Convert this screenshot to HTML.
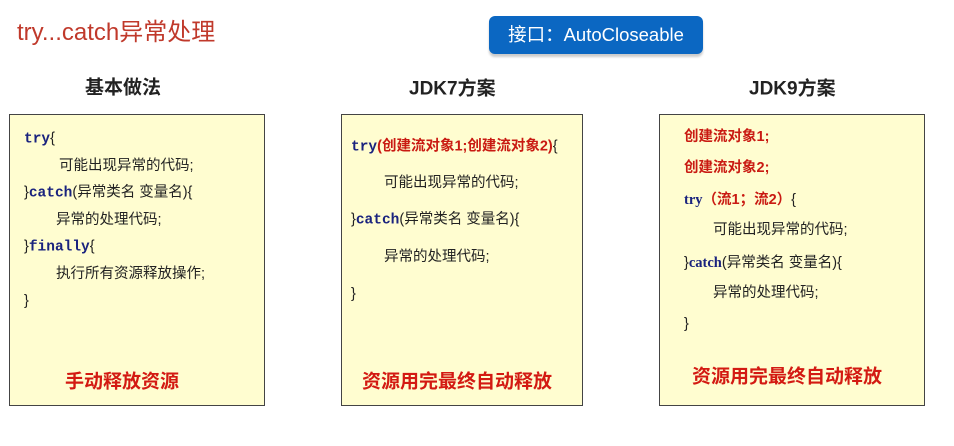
<!DOCTYPE html>
<html><head><meta charset="utf-8"><style>
body{margin:0;width:954px;height:446px;background:#fff;position:relative;overflow:hidden;font-family:"Liberation Sans","Noto Sans CJK SC",sans-serif;}
.a{position:absolute;white-space:nowrap;line-height:1;}
.box{position:absolute;background:#fffdd0;border:1.5px solid #444;box-sizing:border-box;}
.t{font-size:14.5px;color:#222;transform:translateY(-50%);}
.kw{color:#1a237e;font-weight:bold;font-family:"Liberation Mono","Noto Sans CJK SC",monospace;}
.kws{color:#1a237e;font-weight:bold;font-family:"Liberation Serif","Noto Serif CJK SC",serif;}
.r{color:#c91a12;font-weight:bold;}
.h{font-size:19px;font-weight:bold;color:#222;transform:translateY(-50%);}
.f{font-size:19px;font-weight:bold;color:#d31a12;transform:translateY(-50%);}
</style></head><body>
<div class="a" style="left:17px;top:21px;font-size:24px;color:#c0392b;">try...catch异常处理</div>
<div class="a" style="left:489px;top:16px;width:214px;height:38px;background:#0b67c2;border-radius:6px;box-shadow:0 3px 2px #ccc;color:#fff;font-size:18.5px;line-height:38px;text-align:center;">接口：AutoCloseable</div>
<div class="a h" style="left:85px;top:88px;">基本做法</div>
<div class="a h" style="left:409px;top:89px;">JDK7方案</div>
<div class="a h" style="left:749px;top:89px;">JDK9方案</div>

<div class="box" style="left:9px;top:114px;width:256px;height:292px;"></div>
<div class="a t" style="left:24px;top:139px;"><span class="kw">try</span>{</div>
<div class="a t" style="left:59px;top:166px;">可能出现异常的代码;</div>
<div class="a t" style="left:24px;top:193px;">}<span class="kw">catch</span>(异常类名 变量名){</div>
<div class="a t" style="left:56px;top:220px;">异常的处理代码;</div>
<div class="a t" style="left:24px;top:247px;">}<span class="kw">finally</span>{</div>
<div class="a t" style="left:56px;top:274px;">执行所有资源释放操作;</div>
<div class="a t" style="left:24px;top:301px;">}</div>
<div class="a f" style="left:65px;top:382px;">手动释放资源</div>

<div class="box" style="left:341px;top:114px;width:242px;height:292px;"></div>
<div class="a t" style="left:351px;top:147px;"><span class="kw">try</span><span class="r">(创建流对象1;创建流对象2)</span>{</div>
<div class="a t" style="left:384px;top:183px;">可能出现异常的代码;</div>
<div class="a t" style="left:351px;top:220px;">}<span class="kw">catch</span>(异常类名 变量名){</div>
<div class="a t" style="left:384px;top:257px;">异常的处理代码;</div>
<div class="a t" style="left:351px;top:294px;">}</div>
<div class="a f" style="left:362px;top:382px;">资源用完最终自动释放</div>

<div class="box" style="left:659px;top:114px;width:266px;height:292px;"></div>
<div class="a t r" style="left:684px;top:137px;">创建流对象1;</div>
<div class="a t r" style="left:684px;top:168px;">创建流对象2;</div>
<div class="a t" style="left:684px;top:200px;"><span class="kws">try</span><span class="r">（流1；流2）</span>{</div>
<div class="a t" style="left:713px;top:230px;">可能出现异常的代码;</div>
<div class="a t" style="left:684px;top:263px;">}<span class="kws">catch</span>(异常类名 变量名){</div>
<div class="a t" style="left:713px;top:293px;">异常的处理代码;</div>
<div class="a t" style="left:684px;top:324px;">}</div>
<div class="a f" style="left:692px;top:377px;">资源用完最终自动释放</div>
</body></html>
